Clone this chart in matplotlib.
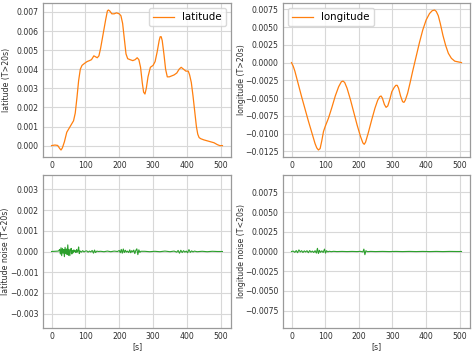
import matplotlib
matplotlib.use("Agg")
import matplotlib.pyplot as plt

# ---------------- data ----------------
lat_t = [0,10,18,24,28,32,38,45,55,65,70,75,80,85,90,97,105,112,118,125,130,135,140,145,150,155,160,165,168,172,178,185,192,200,205,210,215,220,225,232,240,247,253,258,263,268,272,276,280,285,292,300,306,312,318,321,324,327,332,337,342,348,355,362,370,377,383,390,397,404,408,413,418,423,428,432,436,441,450,460,470,480,490,497,505]
lat_v = [0.0,0.00003,0.00001,-0.00015,-0.00023,-0.00012,0.0002,0.0007,0.001,0.0013,0.0017,0.0025,0.0034,0.004,0.0042,0.0043,0.0044,0.00445,0.0045,0.0047,0.00465,0.0046,0.0047,0.0051,0.0056,0.0061,0.0066,0.00705,0.0071,0.00705,0.0069,0.0069,0.00695,0.0069,0.0068,0.0064,0.0056,0.0048,0.00455,0.0045,0.00445,0.0045,0.0046,0.0045,0.0041,0.0033,0.0028,0.0027,0.003,0.0036,0.0041,0.0042,0.0044,0.0049,0.0055,0.0057,0.0057,0.0055,0.0048,0.004,0.0036,0.0036,0.00365,0.0037,0.0038,0.004,0.0041,0.004,0.0039,0.0039,0.0037,0.0033,0.0026,0.0018,0.001,0.0006,0.00042,0.00036,0.0003,0.00025,0.0002,0.00015,0.00005,0.0,0.0]

lon_t = [0,5,10,20,30,40,50,60,70,75,80,85,90,95,100,110,120,130,140,148,153,158,165,175,185,195,205,212,216,220,228,238,248,256,262,266,270,276,281,286,292,298,305,310,314,318,324,330,334,338,345,352,360,370,380,390,400,410,418,425,430,436,442,450,458,466,475,485,495,505]
lon_v = [0.0,-0.0005,-0.0012,-0.003,-0.0048,-0.0065,-0.0082,-0.0098,-0.0114,-0.012,-0.0123,-0.0121,-0.011,-0.0097,-0.009,-0.0078,-0.0063,-0.0047,-0.0034,-0.0027,-0.0026,-0.0028,-0.0036,-0.0052,-0.007,-0.0088,-0.0104,-0.0113,-0.0115,-0.0112,-0.0099,-0.0081,-0.0064,-0.0053,-0.0048,-0.0047,-0.005,-0.0059,-0.0063,-0.0061,-0.0052,-0.0041,-0.0035,-0.0032,-0.0032,-0.0036,-0.0047,-0.0055,-0.0056,-0.0053,-0.0043,-0.0029,-0.0012,0.0008,0.0028,0.0046,0.006,0.0069,0.0073,0.0074,0.0072,0.0066,0.0055,0.0038,0.0024,0.0013,0.0006,0.0002,0.0001,0.0]

latn_t = [0,10,20,22,24,26,28,30,32,34,36,38,40,42,44,46,48,50,52,54,56,58,60,62,64,66,68,70,72,74,76,78,80,82,84,88,92,96,100,104,108,112,116,120,124,127,130,134,138,145,155,165,175,185,195,200,203,206,209,212,215,218,221,224,228,231,234,237,240,243,246,249,252,255,258,261,264,275,290,305,320,335,350,362,370,374,378,382,386,390,394,398,402,406,410,414,418,422,430,445,460,475,490,505]
latn_v = [0.0,0.00001,0.00002,0.00005,0.0001,-0.00012,0.00018,-0.0002,0.00015,-0.00008,0.0001,-0.00025,0.0002,-0.0001,0.00012,-0.00015,0.00032,-0.00018,0.0001,-0.0002,0.00008,0.00015,-0.00012,0.00005,-0.00006,0.00008,0.0,0.00004,-0.00005,0.0001,-0.00003,0.00002,0.00022,-0.0001,0.00003,-0.00003,0.00004,-0.00002,0.00002,0.00003,-0.00003,0.00002,-0.00002,0.00005,-0.00008,0.00007,-0.00005,0.00002,0.0,0.00001,-0.00001,0.00002,-0.00001,0.00002,0.0,0.00005,-0.00006,0.0001,-0.00008,0.00012,-0.00005,0.00006,-0.00003,0.00002,-0.00005,0.00008,-0.00006,0.00004,-0.00002,0.00007,-0.0001,0.00005,0.00013,-0.00015,0.00008,-0.00004,0.00001,0.00001,-0.00001,0.00001,-0.00001,0.00002,-0.00001,0.00002,-0.00003,0.00005,-0.00008,0.00006,-0.00005,0.00004,-0.00003,0.00002,-0.00006,0.00009,-0.00004,0.00003,-0.00002,0.00002,-0.00001,0.00001,-0.00001,0.00001,0.0,0.0]

lonn_t = [0,5,10,14,18,22,26,30,34,38,42,46,50,54,58,62,66,70,74,77,80,83,86,90,94,98,101,104,108,112,118,125,135,150,165,180,195,205,212,215,218,221,225,235,250,270,290,310,330,350,370,390,410,430,450,470,490,505]
lonn_v = [0.0,0.00005,-0.0001,0.00012,-0.00015,0.0002,-0.00005,0.0001,-0.00012,0.00008,-0.00006,0.0001,-0.00015,0.00012,-0.00008,0.00005,-0.00012,0.0001,-0.0002,0.0004,-0.00025,0.00015,-0.0001,0.00008,-0.00012,0.0003,-0.0002,0.0001,-0.00005,0.00003,-0.00002,0.00002,-0.00001,0.00001,-0.00001,0.00001,-0.00001,0.00002,-0.00005,0.0003,-0.0004,0.0001,-0.00002,0.00001,-0.00001,0.00001,-0.00001,0.00001,-0.00001,0.00001,-0.00001,0.00001,-0.00001,0.00001,-0.00001,0.00001,0.0,0.0]

xticks = [0, 100, 200, 300, 400, 500]

# ---------------- style ----------------
plt.rcParams['font.family'] = ['DejaVu Sans']
TICK_FS = 5.6
TEXT_C = '#2e2e2e'
SPINE_C = '#9a9a9a'
GRID_C = '#d8d8d8'
ORANGE = '#ff7f0e'
GREEN = '#2ca02c'

W, H = 474, 352
fig = plt.figure(figsize=(W / 100, H / 100), dpi=100)

def px_axes(l, r, t, b):
    return fig.add_axes([l / W, (H - b) / H, (r - l) / W, (b - t) / H])

ax_lat = px_axes(43, 231, 3, 157)
ax_lon = px_axes(283, 470, 3, 157)
ax_latn = px_axes(43, 231, 175, 328)
ax_lonn = px_axes(283, 470, 175, 328)

def style(ax, label_x_px, left_px, width_px):
    ax.set_facecolor('white')
    ax.grid(True, color=GRID_C, linewidth=0.8)
    ax.set_axisbelow(True)
    for s in ax.spines.values():
        s.set_color(SPINE_C)
        s.set_linewidth(0.9)
    ax.tick_params(length=0, labelsize=TICK_FS, labelcolor=TEXT_C, pad=3)
    ax.set_xticks(xticks)
    ax.set_xlim(-25.25, 530.25)
    ax.yaxis.set_label_coords((label_x_px - left_px) / width_px, 0.5)

ax_lat.plot(lat_t, lat_v, color=ORANGE, lw=0.9, label='latitude')
ax_lat.set_yticks([0.000, 0.001, 0.002, 0.003, 0.004, 0.005, 0.006, 0.007])
ax_lat.set_yticklabels(['0.000', '0.001', '0.002', '0.003', '0.004', '0.005', '0.006', '0.007'])
ax_lat.set_ylabel('latitude (T>20s)', fontsize=TICK_FS, color=TEXT_C)
style(ax_lat, 11.5, 43, 188)
ax_lat.legend(loc='upper right', fontsize=7.4, frameon=True, edgecolor='#d0d0d0',
              handlelength=2.0, borderpad=0.4, fancybox=True)

ax_lon.plot(lon_t, lon_v, color=ORANGE, lw=0.9, label='longitude')
ax_lon.set_yticks([0.0075, 0.005, 0.0025, 0.0, -0.0025, -0.005, -0.0075, -0.01, -0.0125])
ax_lon.set_yticklabels(['0.0075', '0.0050', '0.0025', '0.0000', '\u22120.0025', '\u22120.0050',
                        '\u22120.0075', '\u22120.0100', '\u22120.0125'])
ax_lon.set_ylabel('longitude (T>20s)', fontsize=TICK_FS, color=TEXT_C)
style(ax_lon, 245.5, 283, 187)
ax_lon.legend(loc='upper left', fontsize=7.4, frameon=True, edgecolor='#d0d0d0',
              handlelength=2.0, borderpad=0.4, fancybox=True)

ax_latn.plot(latn_t, latn_v, color=GREEN, lw=0.8)
ax_latn.set_ylim(-0.0037, 0.0037)
ax_latn.set_yticks([-0.003, -0.002, -0.001, 0.0, 0.001, 0.002, 0.003])
ax_latn.set_yticklabels(['\u22120.003', '\u22120.002', '\u22120.001', '0.000', '0.001', '0.002', '0.003'])
ax_latn.set_ylabel('latitude noise (T<20s)', fontsize=TICK_FS, color=TEXT_C)
ax_latn.set_xlabel('[s]', fontsize=TICK_FS, color=TEXT_C, labelpad=1)
style(ax_latn, 10, 43, 188)

ax_lonn.plot(lonn_t, lonn_v, color=GREEN, lw=0.8)
ax_lonn.set_ylim(-0.0097, 0.0097)
ax_lonn.set_yticks([-0.0075, -0.005, -0.0025, 0.0, 0.0025, 0.005, 0.0075])
ax_lonn.set_yticklabels(['\u22120.0075', '\u22120.0050', '\u22120.0025', '0.0000', '0.0025', '0.0050', '0.0075'])
ax_lonn.set_ylabel('longitude noise (T<20s)', fontsize=TICK_FS, color=TEXT_C)
ax_lonn.set_xlabel('[s]', fontsize=TICK_FS, color=TEXT_C, labelpad=1)
style(ax_lonn, 245.5, 283, 187)

fig.savefig('out.png', dpi=100)
